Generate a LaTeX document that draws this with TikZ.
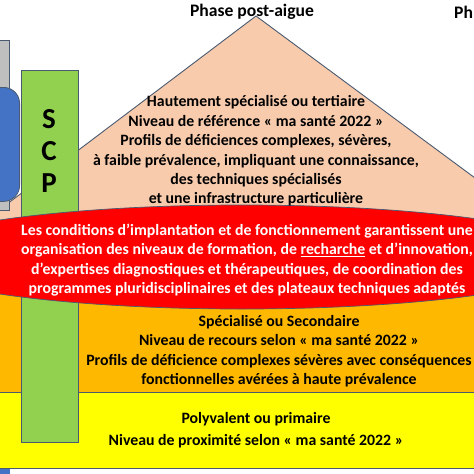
\documentclass[tikz,border=0pt]{standalone}
\usepackage{fontspec}
\setmainfont{Carlito}
\usetikzlibrary{shapes.geometric}
\definecolor{peach}{HTML}{F8CBAD}
\definecolor{bandorange}{HTML}{FFB800}
\definecolor{bandyellow}{HTML}{FFFF00}
\definecolor{scpgreen}{HTML}{92D050}
\definecolor{boxblue}{HTML}{4472C4}
\definecolor{boxgrey}{HTML}{BFBFBF}
\definecolor{edge}{HTML}{4A5A70}
\definecolor{redfill}{HTML}{FF0000}
\tikzset{
  txt/.style={font=\fontsize{15.8}{19.4}\selectfont\bfseries, align=center, inner sep=0pt},
  toplabel/.style={font=\fontsize{17.6}{20}\selectfont\bfseries, inner sep=0pt},
  band/.style={draw=edge, line width=0.8pt, inner sep=0pt, anchor=north west},
}
\begin{document}
\begin{tikzpicture}[x=1pt,y=-1pt]
\useasboundingbox (0,0) rectangle (474,474);
% triangle
\path[fill=peach, draw=edge, line width=0.9pt] (-120,300) -- (256,16) -- (640,300) -- cycle;
% bands
\node[band, fill=bandorange, minimum width=480pt, minimum height=122pt] (orange) at (-3,270) {};
\node[band, fill=bandyellow, minimum width=480pt, minimum height=76pt] (yellow) at (-3,392) {};
% left fragments
\node[draw=edge, fill=boxgrey, line width=0.8pt, minimum width=20pt, minimum height=170pt, anchor=north east, inner sep=0pt] (grey) at (10,40) {};
\node[draw=edge, fill=boxblue, line width=0.8pt, rounded corners=16pt, minimum width=50pt, minimum height=114pt, anchor=north east, inner sep=0pt] (blue) at (20,87) {};
\node[fill=boxblue, minimum width=10pt, minimum height=8pt, anchor=north west, inner sep=0pt] (blueb) at (0,469) {};
% green SCP column
\node[draw=edge, fill=scpgreen, line width=0.8pt, minimum width=57pt, minimum height=372pt, anchor=north west, inner sep=0pt] (scp) at (21,70) {};
\node[font=\fontsize{29}{32}\selectfont\bfseries, align=center, inner sep=0pt] (scptxt) at (49,151) {S\\C\\P};
% red ellipse
\node[ellipse, draw=edge, fill=redfill, line width=0.7pt, minimum width=690pt, minimum height=104pt, inner sep=0pt] (red) at (242,257) {};
% top labels
\node[toplabel] (phase) at (252,12) {Phase post-aigue};
\node[toplabel, anchor=west] (ph) at (454,12) {Ph};
% texts
\node[txt] (tri) at (256,151) {Hautement spécialisé ou tertiaire\\Niveau de référence « ma santé 2022 »\\Profils de déficiences complexes, sévères,\\à faible prévalence, impliquant une connaissance,\\des techniques spécialisés\\et une infrastructure particulière};
\node[txt, text=white] (redtxt) at (247,260) {Les conditions d’implantation et de fonctionnement garantissent une\\organisation des niveaux de formation, de \underline{recharche} et d’innovation,\\d’expertises diagnostiques et thérapeutiques, de coordination des\\programmes pluridisciplinaires et des plateaux techniques adaptés};
\node[txt] (ortxt) at (279,351) {Spécialisé ou Secondaire\\Niveau de recours selon « ma santé 2022 »\\Profils de déficience complexes sévères avec conséquences\\fonctionnelles avérées à haute prévalence};
\node[txt, font=\fontsize{15.8}{22}\selectfont\bfseries] (yetxt) at (256,430) {Polyvalent ou primaire\\Niveau de proximité selon « ma santé 2022 »};
\end{tikzpicture}
\end{document}
